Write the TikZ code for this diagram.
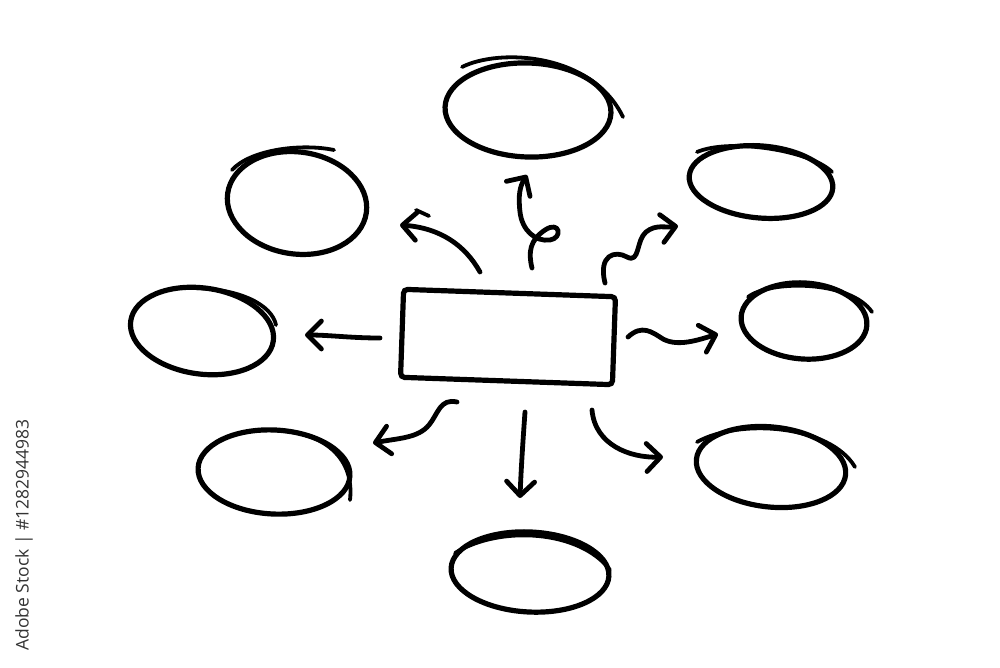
\documentclass[tikz,border=0pt]{standalone}
\usepackage{fontspec}
\newfontfamily\wmfont{Open Sans}
\usetikzlibrary{arrows.meta,shapes.geometric}
\tikzset{
  ink/.style={draw=black, line width=5.2pt},
  bubble/.style={ink, ellipse, inner sep=0pt},
  extra/.style={draw=black, line width=3.8pt, line cap=round},
  arr/.style={draw=black, line width=4.8pt, line cap=round, line join=round,
    -{Straight Barb[length=14pt,width=28pt,round]}},
}
\begin{document}
\begin{tikzpicture}[x=1pt,y=-1pt]
\useasboundingbox (0,0) rectangle (1000,667);
\fill[white] (0,0) rectangle (1000,667);

% central box
\node[ink, rectangle, rounded corners=4pt, minimum width=212pt, minimum height=88pt, rotate=-2] (box) at (508,337) {};

% bubbles
\node[bubble, minimum width=166pt, minimum height=94pt, rotate=-2] (e1) at (528,110) {};
\node[bubble, minimum width=140pt, minimum height=102pt, rotate=-8] (e2) at (297,203) {};
\node[bubble, minimum width=144pt, minimum height=72pt, rotate=-5] (e3) at (761,182) {};
\node[bubble, minimum width=144pt, minimum height=86pt, rotate=-8] (e4) at (202,331) {};
\node[bubble, minimum width=126pt, minimum height=76pt, rotate=-4] (e5) at (804,321) {};
\node[bubble, minimum width=152pt, minimum height=84pt, rotate=-3] (e6) at (274,472) {};
\node[bubble, minimum width=150pt, minimum height=80pt, rotate=-6] (e7) at (771,467) {};
\node[bubble, minimum width=158pt, minimum height=80pt, rotate=-3] (e8) at (530,572) {};

% extra hand strokes on bubbles
\draw[extra] (462,67) .. controls (500,48) and (592,53) .. (623,117);
\draw[extra] (232,170) .. controls (250,150) and (300,143) .. (334,150);
\draw[extra] (697,152) .. controls (730,138) and (810,150) .. (832,172);
\draw[extra] (190,288) .. controls (240,288) and (272,305) .. (276,325);
\draw[extra] (748,297) .. controls (770,280) and (850,280) .. (872,312);
\draw[extra] (262,430) .. controls (320,428) and (355,455) .. (350,500);
\draw[extra] (697,442) .. controls (740,418) and (830,425) .. (855,467);
\draw[extra] (455,553) .. controls (500,525) and (580,530) .. (610,570);

% arrow end points
\coordinate (a1s) at (380,338); \coordinate (a1e) at (305,335);
\coordinate (a2s) at (480,272); \coordinate (a2e) at (400,225);
\coordinate (a3s) at (532,268); \coordinate (a3e) at (527,175);
\coordinate (a4s) at (605,283); \coordinate (a4e) at (678,226);
\coordinate (a5s) at (628,337); \coordinate (a5e) at (718,334);
\coordinate (a6s) at (592,410); \coordinate (a6e) at (663,457);
\coordinate (a7s) at (525,412); \coordinate (a7e) at (520,498);
\coordinate (a8s) at (457,402); \coordinate (a8e) at (373,443);
\coordinate (t1) at (416,210); \coordinate (t2) at (429,216);

% arrows
\draw[arr] (a1s) .. controls (350,338) and (330,335) .. (a1e);
\draw[arr] (a2s) .. controls (465,245) and (440,228) .. (a2e);
\draw[extra] (t1) -- (t2);
\draw[arr] (a3s) .. controls (528,252) and (530,240) .. (545,230)
  .. controls (560,220) and (563,238) .. (550,240)
  .. controls (535,242) and (522,230) .. (520,212)
  .. controls (518,195) and (520,186) .. (a3e);
\draw[arr] (a4s) .. controls (598,255) and (615,250) .. (627,257)
  .. controls (640,264) and (636,240) .. (646,232)
  .. controls (656,224) and (665,228) .. (a4e);
\draw[arr] (a5s) .. controls (642,324) and (652,332) .. (663,339)
  .. controls (678,347) and (698,340) .. (a5e);
\draw[arr] (a6s) .. controls (595,445) and (630,458) .. (a6e);
\draw[arr] (a7s) .. controls (523,440) and (521,470) .. (a7e);
\draw[arr] (a8s) .. controls (440,398) and (438,414) .. (429,425)
  .. controls (418,438) and (400,438) .. (a8e);

% side credit
\node[rotate=90, text=black!80, font=\wmfont\fontsize{17.5}{17.5}\selectfont, inner sep=0pt] (wm) at (24,535) {Adobe Stock | \#1282944983};
\end{tikzpicture}
\end{document}
